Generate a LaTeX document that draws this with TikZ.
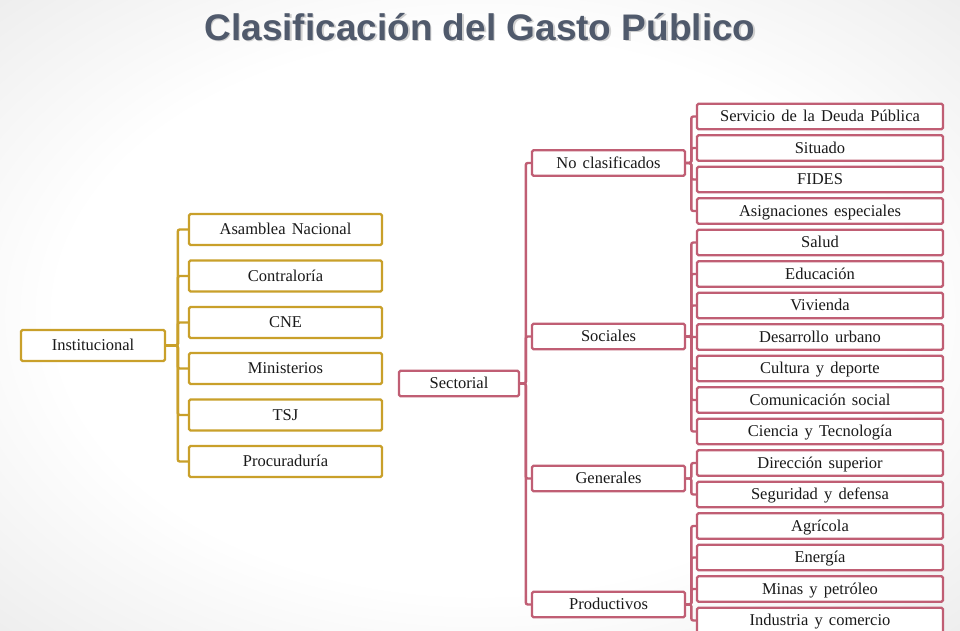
\documentclass[tikz,border=0pt]{standalone}
\usepackage{fontspec}
\setmainfont[WordSpace=1.5]{Liberation Serif}
\newfontfamily\titlefont{Liberation Sans}
\definecolor{gold}{RGB}{201,160,42}
\definecolor{rose}{RGB}{192,94,116}
\definecolor{titlec}{RGB}{80,90,108}
\pgfdeclareradialshading{bgshade}{\pgfpoint{0bp}{0bp}}{color(0bp)=(white); color(22bp)=(white); color(50bp)=(black!14); color(72bp)=(black!22)}
\begin{document}
\begin{tikzpicture}[x=1pt,y=-1pt,
  box/.style={draw, line width=2.4pt, rounded corners=1.5pt, fill=white, inner sep=0pt,
    text height=12pt, text depth=1.5pt,
    font=\fontsize{16.5}{18}\selectfont, text=black!90},
  gbox/.style={box, draw=gold, minimum width=193, minimum height=31},
  rbox/.style={box, draw=rose, minimum width=246, minimum height=25.5},
  mbox/.style={box, draw=rose, minimum width=153, minimum height=25.5},
  gline/.style={draw=gold, line width=2.4pt, rounded corners=2pt},
  rline/.style={draw=rose, line width=2.4pt, rounded corners=2pt},
  ttl/.style={font=\titlefont\bfseries\fontsize{37}{40}\selectfont}]
\path[shading=bgshade] (0,0) rectangle (960,630);
\useasboundingbox (0,0) rectangle (960,630);
\clip (0,0) rectangle (960,630);

% title
\node[ttl, text=black!30, opacity=0.6] at (481.5,28.5) {Clasificación del Gasto Público};
\node[ttl, text=titlec] (title) at (480,27) {Clasificación del Gasto Público};

% institucional
\node[box, draw=gold, minimum width=144, minimum height=31] (inst) at (93,345.5) {Institucional};
\node[gbox] (an) at (285.5,229.5) {Asamblea Nacional};
\node[gbox] (contra) at (285.5,276) {Contraloría};
\node[gbox] (cne) at (285.5,322.5) {CNE};
\node[gbox] (mini) at (285.5,368.5) {Ministerios};
\node[gbox] (tsj) at (285.5,415) {TSJ};
\node[gbox] (proc) at (285.5,461.5) {Procuraduría};
\foreach \c in {an,contra,cne,mini,tsj,proc}
  \draw[gline] (\c.west) -- ++(-10,0) |- (inst.east);

% sectorial
\node[box, draw=rose, minimum width=120, minimum height=25.5] (sect) at (459,383.5) {Sectorial};
\node[mbox] (nocl) at (608.5,163) {No clasificados};
\node[mbox] (soc) at (608.5,336.5) {Sociales};
\node[mbox] (gen) at (608.5,478.5) {Generales};
\node[mbox] (prod) at (608.5,604.5) {Productivos};
\foreach \c in {nocl,soc,gen,prod}
  \draw[rline] (\c.west) -- ++(-5,0) |- (sect.east);

% level 3
\node[rbox] (r1) at (820,116.5) {Servicio de la Deuda Pública};
\node[rbox] (r2) at (820,148) {Situado};
\node[rbox] (r3) at (820,179.5) {FIDES};
\node[rbox] (r4) at (820,211) {Asignaciones especiales};
\node[rbox] (r5) at (820,242.5) {Salud};
\node[rbox] (r6) at (820,274) {Educación};
\node[rbox] (r7) at (820,305.5) {Vivienda};
\node[rbox] (r8) at (820,337) {Desarrollo urbano};
\node[rbox] (r9) at (820,368.5) {Cultura y deporte};
\node[rbox] (r10) at (820,400) {Comunicación social};
\node[rbox] (r11) at (820,431.5) {Ciencia y Tecnología};
\node[rbox] (r12) at (820,463) {Dirección superior};
\node[rbox] (r13) at (820,494.5) {Seguridad y defensa};
\node[rbox] (r14) at (820,526) {Agrícola};
\node[rbox] (r15) at (820,557.5) {Energía};
\node[rbox] (r16) at (820,589) {Minas y petróleo};
\node[rbox] (r17) at (820,620.5) {Industria y comercio};
\foreach \c in {r1,r2,r3,r4}
  \draw[rline] (\c.west) -- ++(-4.5,0) |- (nocl.east);
\foreach \c in {r5,r6,r7,r8,r9,r10,r11}
  \draw[rline] (\c.west) -- ++(-4.5,0) |- (soc.east);
\foreach \c in {r12,r13}
  \draw[rline] (\c.west) -- ++(-4.5,0) |- (gen.east);
\foreach \c in {r14,r15,r16,r17}
  \draw[rline] (\c.west) -- ++(-4.5,0) |- (prod.east);
\end{tikzpicture}
\end{document}
